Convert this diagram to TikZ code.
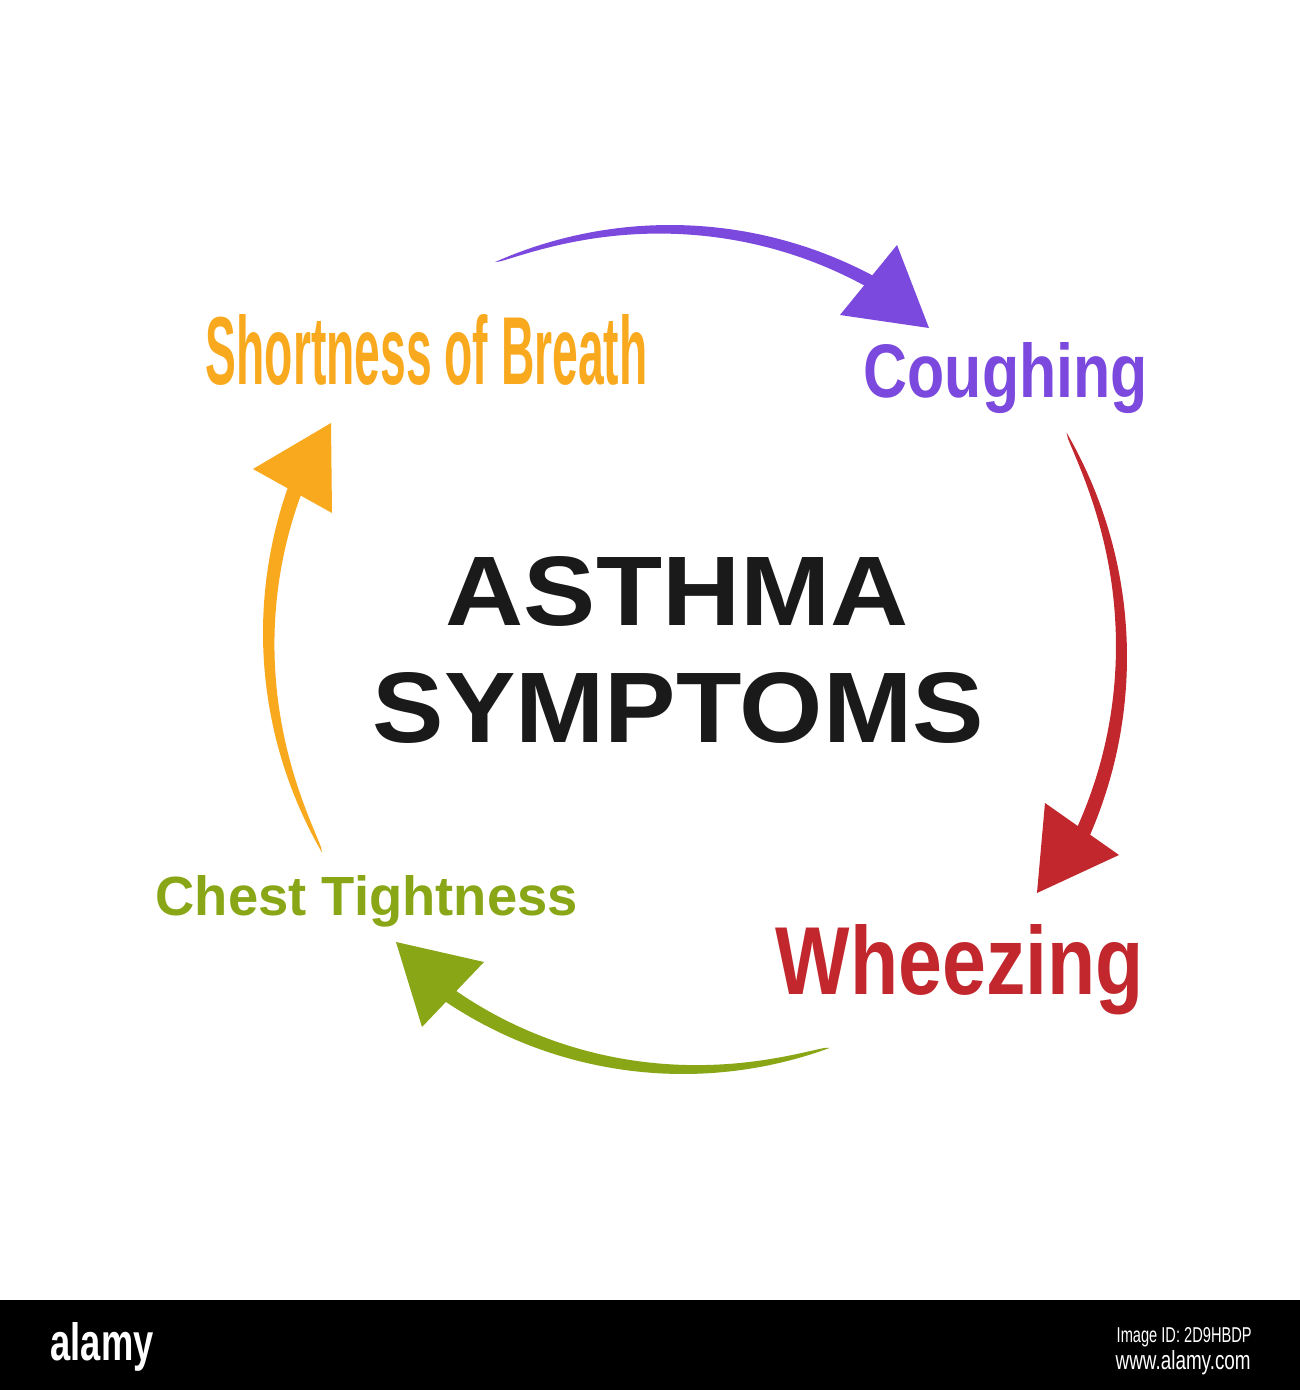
\documentclass[tikz,border=0pt]{standalone}
\usepackage{fontspec}
\setmainfont{Liberation Sans}
\usepackage{graphicx}
\definecolor{breathc}{HTML}{F9A91E}
\definecolor{coughc}{HTML}{7B49DE}
\definecolor{wheezec}{HTML}{C1272D}
\definecolor{chestc}{HTML}{88A615}
\definecolor{titlec}{HTML}{1A1A1A}
\tikzset{
  symtxt/.style={anchor=base west, inner sep=0pt, font=\bfseries},
  marktxt/.style={anchor=base west, inner sep=0pt, text=white}
}
% colour, centre x, centre y, radius, tail angle, head angle, width
\newcommand{\taperarc}[7]{%
  \fill[#1] plot[domain=#5:#6, samples=80] ({#2+#4*cos(\x)}, {#3+#4*sin(\x)})
    -- plot[domain=#6:#5, samples=80]
    ({#2+(#4-#7*sqrt(abs((\x-(#5))/((#6)-(#5)))))*cos(\x)},
     {#3+(#4-#7*sqrt(abs((\x-(#5))/((#6)-(#5)))))*sin(\x)}) -- cycle;}
\begin{document}
\begin{tikzpicture}
    \useasboundingbox (0,0) rectangle (13,13.9);
    \fill[white] (0,0) rectangle (13,13.9);
    \taperarc{coughc}{6.70}{7.33}{4.32}{113.9}{60.5}{0.13}
    \fill[coughc] (8.97,11.45) -- (8.40,10.75) -- (9.29,10.62) -- cycle;
    \taperarc{wheezec}{6.80}{7.33}{4.47}{30.1}{-24.5}{0.15}
    \fill[wheezec] (10.45,5.87) -- (11.19,5.35) -- (10.37,4.97) -- cycle;
    \taperarc{chestc}{6.83}{7.42}{4.26}{-69.8}{-125}{0.15}
    \fill[chestc] (3.96,4.48) -- (4.84,4.28) -- (4.22,3.63) -- cycle;
    \taperarc{breathc}{7.01}{7.57}{4.38}{210.1}{159.5}{0.15}
    \fill[breathc] (3.31,9.67) -- (2.53,9.21) -- (3.32,8.77) -- cycle;
    \node[symtxt, text=breathc] (breath) at (2.05,10.05) {\resizebox{4.42cm}{0.70cm}{Shortness of Breath}};
    \node[symtxt, text=coughc] (cough) at (8.63,9.92) {\resizebox{2.84cm}{0.55cm}{Coughing}};
    \node[symtxt, text=wheezec] (wheeze) at (7.75,3.95) {\resizebox{3.68cm}{0.70cm}{Wheezing}};
    \node[symtxt, text=chestc] (chest) at (1.55,4.75) {\resizebox{4.22cm}{0.40cm}{Chest Tightness}};
    \node[symtxt, text=titlec] (title1) at (4.45,7.64) {\resizebox{4.63cm}{0.69cm}{ASTHMA}};
    \node[symtxt, text=titlec] (title2) at (3.72,6.47) {\resizebox{6.11cm}{0.70cm}{SYMPTOMS}};
    \fill[black] (0,0) rectangle (13,0.90);
    \node[marktxt, font=\bfseries] (logo) at (0.50,0.30) {\resizebox{1.03cm}{0.38cm}{alamy}};
    \node[marktxt] (imgid) at (11.16,0.48) {\resizebox{1.35cm}{0.15cm}{Image ID: 2D9HBDP}};
    \node[marktxt] (site) at (11.15,0.21) {\resizebox{1.35cm}{0.19cm}{www.alamy.com}};
\end{tikzpicture}
\end{document}
